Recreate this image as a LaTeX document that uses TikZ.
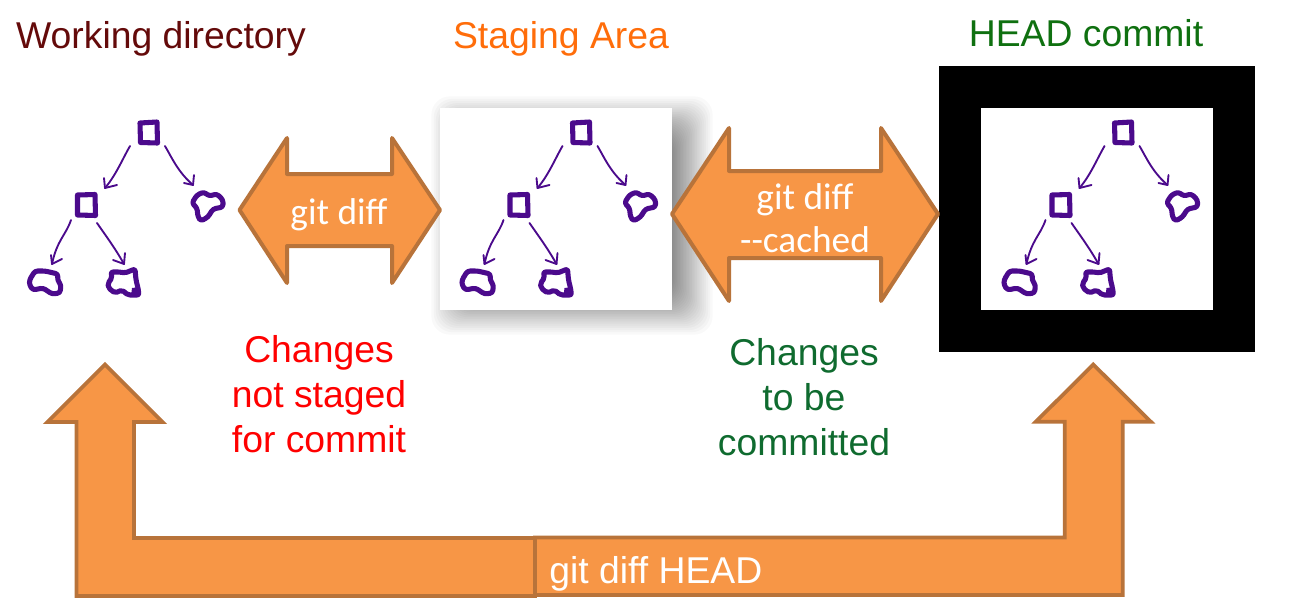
\documentclass[tikz,border=0pt]{standalone}
\usepackage{fontspec}
\setmainfont{Liberation Sans}
\newfontfamily\carl{Carlito}
\definecolor{arrfill}{HTML}{F79646}
\definecolor{arrline}{HTML}{B8733A}
\definecolor{treeink}{HTML}{4B0A8C}
\definecolor{wdcol}{HTML}{640A0A}
\definecolor{sacol}{HTML}{FF6D0A}
\definecolor{hdcol}{HTML}{0F7010}
\definecolor{chcol}{HTML}{0F6B2F}
\tikzset{
  bigarrow/.style={fill=arrfill,draw=arrline,line width=2.8pt,line join=miter},
  dblarrow/.style={fill=arrfill,draw=arrline,line width=3pt,line join=round},
  ttl/.style={font=\fontsize{28}{30}\selectfont,inner sep=0pt,anchor=base},
  inarrow/.style={font=\carl\fontsize{28}{32.25}\selectfont,text=white,align=center,inner sep=0pt},
  note/.style={font=\fontsize{28}{33.6}\selectfont,align=center,inner sep=0pt},
  boxink/.style={draw=treeink,line width=3.8pt,line join=round},
  linkink/.style={draw=treeink,line width=1.4pt,line cap=round,line join=round},
}
\newcommand{\treeat}[1]{%
  \begin{scope}[shift={(#1,0)}]
    \draw[boxink] (140,123) -- (157,122) -- (157.5,143) -- (140.5,142.5) -- cycle;
    \draw[boxink] (77.5,195) -- (95,194.5) -- (95.5,215.5) -- (77.5,215) -- cycle;
    \draw[linkink] (130,146) .. controls (122,160) and (116,175) .. (105,188);
    \draw[linkink] (104,178) -- (105,188) -- (117,185);
    \draw[linkink] (165,146) .. controls (172,158) and (178,172) .. (193,185);
    \draw[linkink] (194,175) -- (193,185) -- (184,183);
    \draw[linkink] (71,220) .. controls (66,235) and (57,240) .. (52,264);
    \draw[linkink] (51,255) -- (52,264) -- (62,259);
    \draw[linkink] (97,223) .. controls (106,236) and (115,248) .. (124,264);
    \draw[linkink] (113,260) -- (124,264) -- (125,253);
    \draw[boxink,rounded corners=2pt] (192,203) -- (197,195) -- (204,192) -- (209,196) -- (217,194) -- (223,200) -- (223,207) -- (213,209) -- (208,217) -- (201,221) -- (198,217) -- (197,208) -- cycle;
    \draw[boxink,rounded corners=2pt] (29.5,280) -- (35,271) -- (45,271) -- (58,274) -- (57.5,280) -- (61,285) -- (60,293) -- (52,294) -- (43,288) -- (33,290) -- (29.5,285) -- cycle;
    \draw[boxink,rounded corners=1.5pt] (108,283) -- (112,278) -- (111,272) -- (120,272) -- (125,273) -- (135,269) -- (136,280) -- (138,288) -- (139,295) -- (128,295) -- (122,290) -- (115,293) -- (108.5,288) -- cycle;
    \fill[treeink] (132,288) -- (140,287) -- (140,296) -- (131,296) -- cycle;
  \end{scope}}
\begin{document}
\begin{tikzpicture}[x=0.75pt,y=-0.75pt]
\useasboundingbox (0,0) rectangle (1294,600);
% shadow of the staging area
\foreach \i in {1,...,30}{
  \pgfmathsetmacro{\d}{50*(\i/30)^0.8}
  \fill[black,opacity=0.025,rounded corners=14pt]
    ({428+\d},{93+\d}) rectangle ({716-\d},{338-\d});
}
\node[minimum width=174pt,minimum height=151.5pt,fill=white,inner sep=0pt,draw=none] (stagebox) at (556,209) {};
\node[minimum width=237pt,minimum height=214.5pt,fill=black,inner sep=0pt,draw=none] (headouter) at (1097,209) {};
\node[minimum width=174pt,minimum height=151.5pt,fill=white,inner sep=0pt,draw=none] (headbox) at (1097,209) {};
\treeat{0}
\treeat{432.5}
\treeat{974.5}
% double arrows
\draw[dblarrow] (239.5,210) -- (287,138) -- (287,174) -- (392,174) -- (392,138) -- (440,210) -- (392,283) -- (392,246) -- (287,246) -- (287,283) -- cycle;
\draw[dblarrow] (672,214) -- (729,128) -- (729,171) -- (881,171) -- (881,128) -- (938,214) -- (881,301) -- (881,258) -- (729,258) -- (729,301) -- cycle;
% bottom arrows
\draw[bigarrow] (105,364.5) -- (162.5,422) -- (134,422) -- (134,538) -- (535,538) -- (535,596) -- (76.5,596) -- (76.5,422) -- (47.5,422) -- cycle;
\draw[bigarrow] (1093.3,364.5) -- (1150.8,421.7) -- (1122.7,421.7) -- (1122.7,595) -- (535,595) -- (535,537.5) -- (1064.7,537.5) -- (1064.7,421.7) -- (1035.8,421.7) -- cycle;
% titles
\node[ttl,text=wdcol] (wd) at (161,48) {Working directory};
\node[ttl,text=sacol] (sa) at (561,48) {Staging Area};
\node[ttl,text=hdcol] (hd) at (1086,46) {HEAD commit};
% arrow labels
\node[inarrow] (gd) at (339,215) {git diff};
\node[inarrow] (gdc) at (805,218) {git diff\\--cached};
\node[font=\fontsize{28}{30}\selectfont,text=white,inner sep=0pt,anchor=base west] (gdh) at (549,583) {git diff HEAD};
% notes
\node[note,text=red] (nst) at (319,394) {Changes\\not staged\\for commit};
\node[note,text=chcol] (tbc) at (804,397) {Changes\\to be\\committed};
\end{tikzpicture}
\end{document}
